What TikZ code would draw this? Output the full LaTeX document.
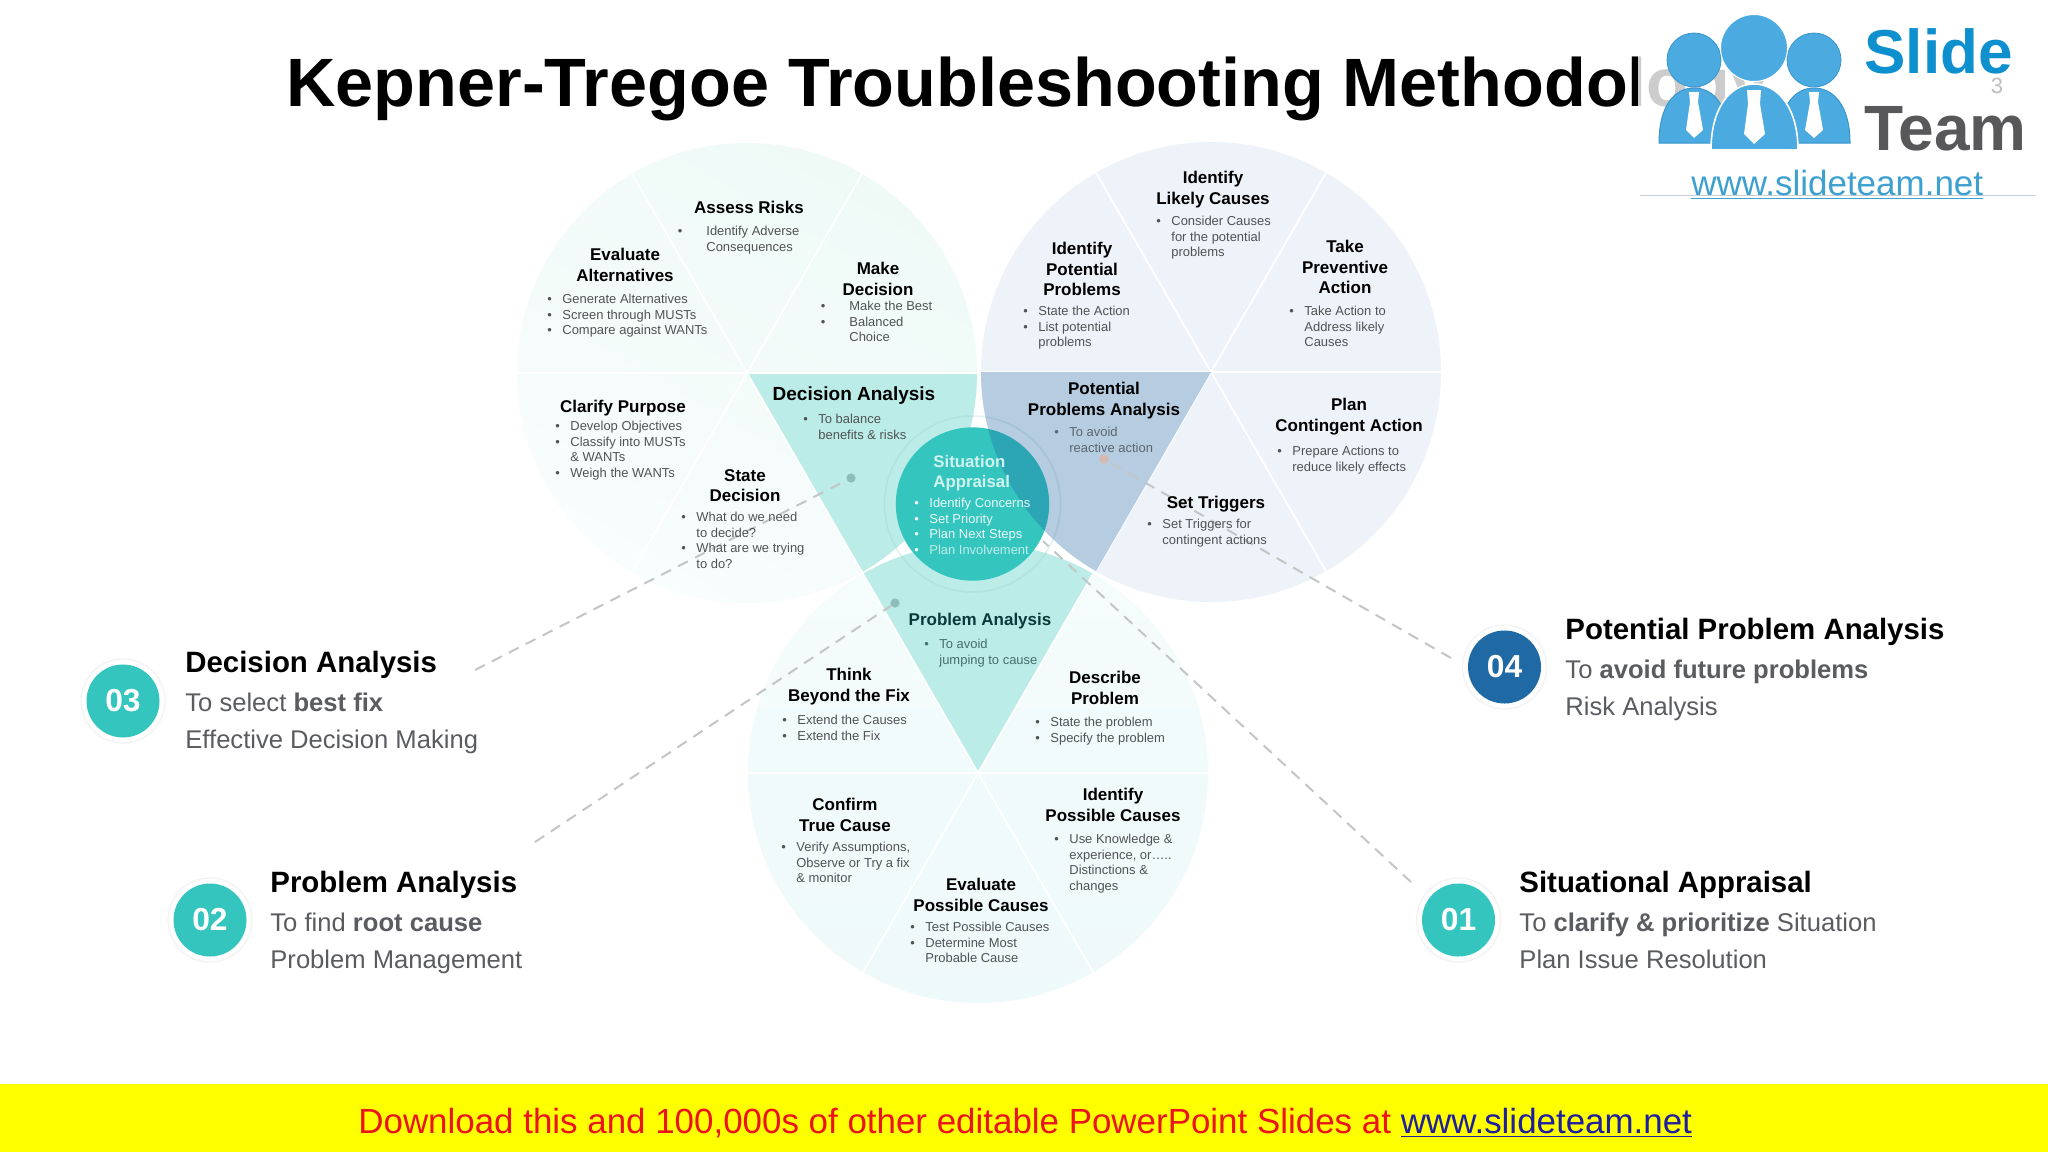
\documentclass[tikz,border=0pt]{standalone}
\usepackage{fontspec}
\setmainfont{Liberation Sans}
\definecolor{tealmain}{HTML}{33C5BE}
\definecolor{bluemain}{HTML}{1F6AA5}
\definecolor{wedgeteal}{HTML}{BBECE7}
\definecolor{bodygray}{HTML}{4F5354}
\definecolor{subgray}{HTML}{5A5C60}
\definecolor{dashgray}{HTML}{C2C6C6}
\definecolor{logoblue}{HTML}{4BAAE0}
\definecolor{logoedge}{HTML}{3A95CC}
\definecolor{bandyellow}{RGB}{255,255,0}
\newcommand{\bul}{\leavevmode\llap{•\hspace{5.2pt}}}
\newcommand{\bulw}{\leavevmode\llap{•\hspace{12pt}}}
\tikzset{
  headtext/.style={anchor=north,align=center,inner sep=0pt,text=black,font=\fontsize{8.5}{10.2}\selectfont\bfseries},
  bodytext/.style={anchor=north west,align=left,inner sep=0pt,text=bodygray,font=\fontsize{6.48}{7.7}\selectfont},
  sidehead/.style={anchor=base west,inner sep=0pt,text=black,font=\fontsize{14.7}{16}\selectfont\bfseries},
  sidesub/.style={anchor=base west,inner sep=0pt,text=subgray,font=\fontsize{12.8}{14}\selectfont},
  badgecore/.style={circle,minimum size=36.5pt,inner sep=0pt,text=white,font=\fontsize{15.9}{17}\selectfont\bfseries},
  badgering/.style={circle,minimum size=42pt,inner sep=0pt,fill=white,draw=black!5,line width=0.6pt},
  spoke/.style={white,line width=0.9pt},
  leader/.style={dashgray,line width=1pt,dash pattern=on 5.5pt off 4pt},
  leaddot/.style={circle,minimum size=4.6pt,inner sep=0pt},
  torso/.style={fill=logoblue,draw=logoedge,line width=0.5pt},
  tie/.style={fill=white}
}
\begin{document}
\begin{tikzpicture}[x=0.5pt,y=-0.5pt]
\useasboundingbox (0,0) rectangle (2048,1152);
\fill[white] (0,0) rectangle (2048,1152);

% title
\node[anchor=base west,inner sep=0pt,text=black,font=\fontsize{34.2}{38}\selectfont\bfseries] (maintitle) at (286,106) {Kepner-Tregoe Troubleshooting Methodology};

% circle A
\shade[top color={rgb,255:red,239;green,250;blue,247},bottom color={rgb,255:red,248;green,253;blue,253},shading angle=-30] (747,373) circle[radius=230];
% circle B
\fill[color={rgb,255:red,238;green,243;blue,249}] (1211,372) circle[radius=230];
% circle C
\shade[top color={rgb,255:red,245;green,252;blue,252},bottom color={rgb,255:red,238;green,249;blue,249}] (978,773) circle[radius=230];

% teal wedges
\fill[wedgeteal] (747,373) -- ++(0:230) arc[start angle=0,end angle=60,radius=230] -- cycle;
\fill[wedgeteal] (978,773) -- ++(240:230) arc[start angle=240,end angle=300,radius=230] -- cycle;
\fill[white] (1211,372) -- ++(120:230) arc[start angle=120,end angle=180,radius=230] -- cycle;

\foreach \a in {0,60,...,300} {
  \draw[spoke] (747,373) -- ++(\a:230);
  \draw[spoke] (1211,372) -- ++(\a:230);
  \draw[spoke] (978,773) -- ++(\a:230);
}

% centre
\draw[color={rgb,255:red,150;green,205;blue,200},opacity=0.25,line width=0.8pt] (972.5,504) circle[radius=88];
\node[circle,minimum size=76.7pt,inner sep=0pt,fill=tealmain] (centre) at (972.5,504) {};
\fill[color={rgb,255:red,31;green,98;blue,160},opacity=0.32] (1211,372) -- ++(120:230) arc[start angle=120,end angle=180,radius=230] -- cycle;

% leaders
\node[leaddot,fill={rgb,255:red,140;green,190;blue,186}] (dot3) at (851,478) {};
\node[leaddot,fill={rgb,255:red,140;green,190;blue,186}] (dot2) at (895,603) {};
\node[leaddot,fill={rgb,255:red,215;green,185;blue,175}] (dot4) at (1104,459) {};
\coordinate (dot1) at (1043,541);
\coordinate (end3) at (475,670);
\coordinate (end2) at (535,842);
\coordinate (end1) at (1411,882);
\coordinate (end4) at (1451,658);
\draw[leader] (end3) -- (dot3);
\draw[leader] (end2) -- (dot2);
\draw[leader] (end4) -- (dot4);
\draw[leader] (end1) -- (dot1);

% circle A texts
\node[headtext] (assess) at (749,201) {Assess Risks};
\node[bodytext] (assessb) at (706,226) {\bulw Identify Adverse\\Consequences};
\node[headtext] (evaluate) at (625,248) {Evaluate\\Alternatives};
\node[bodytext] (evaluateb) at (562,294) {\bul Generate Alternatives\\\bul Screen through MUSTs\\\bul Compare against WANTs};
\node[headtext] (make) at (878,262) {Make\\Decision};
\node[bodytext] (makeb) at (849,301) {\bulw Make the Best\\\bulw Balanced\\Choice};
\node[headtext,font=\fontsize{9.5}{11}\selectfont\bfseries] (da) at (854,386) {Decision Analysis};
\node[bodytext] (dab) at (818,414) {\bul To balance\\benefits \& risks};
\node[headtext] (clarify) at (623,400) {Clarify Purpose};
\node[bodytext] (clarifyb) at (570,421) {\bul Develop Objectives\\\bul Classify into MUSTs\\\& WANTs\\\bul Weigh the WANTs};
\node[headtext] (state) at (745,469) {State\\Decision};
\node[bodytext] (stateb) at (696,512) {\bul What do we need\\to decide?\\\bul What are we trying\\to do?};

% circle B texts
\node[headtext] (likely) at (1213,171) {Identify\\Likely Causes};
\node[bodytext] (likelyb) at (1171,216) {\bul Consider Causes\\for the potential\\problems};
\node[headtext] (potential) at (1082,242) {Identify\\Potential\\Problems};
\node[bodytext] (potentialb) at (1038,306) {\bul State the Action\\\bul List potential\\problems};
\node[headtext] (take) at (1345,240) {Take\\Preventive\\Action};
\node[bodytext] (takeb) at (1304,306) {\bul Take Action to\\Address likely\\Causes};
\node[headtext] (ppa) at (1104,382) {Potential\\Problems Analysis};
\node[bodytext,text={rgb,255:red,90;green,102;blue,112}] (ppab) at (1069,427) {\bul To avoid\\reactive action};
\node[headtext] (plan) at (1349,398) {Plan\\Contingent Action};
\node[bodytext] (planb) at (1292,446) {\bul Prepare Actions to\\reduce likely effects};
\node[headtext] (triggers) at (1216,496) {Set Triggers};
\node[bodytext] (triggersb) at (1162,519) {\bul Set Triggers for\\contingent actions};

% circle C texts
\node[headtext,text={rgb,255:red,12;green,58;blue,58}] (pa) at (980,613) {Problem Analysis};
\node[bodytext,text={rgb,255:red,70;green,110;blue,108}] (pab) at (939,639) {\bul To avoid\\jumping to cause};
\node[headtext] (think) at (849,668) {Think\\Beyond the Fix};
\node[bodytext] (thinkb) at (797,715) {\bul Extend the Causes\\\bul Extend the Fix};
\node[headtext] (describe) at (1105,671) {Describe\\Problem};
\node[bodytext] (describeb) at (1050,717) {\bul State the problem\\\bul Specify the problem};
\node[headtext] (confirm) at (845,798) {Confirm\\True Cause};
\node[bodytext] (confirmb) at (796,842) {\bul Verify Assumptions,\\Observe or Try a fix\\\& monitor};
\node[headtext] (possible) at (1113,788) {Identify\\Possible Causes};
\node[bodytext] (possibleb) at (1069,834) {\bul Use Knowledge \&\\experience, or…..\\Distinctions \&\\changes};
\node[headtext] (evalp) at (981,878) {Evaluate\\Possible Causes};
\node[bodytext] (evalpb) at (925,922) {\bul Test Possible Causes\\\bul Determine Most\\Probable Cause};

% centre text
\node[headtext,anchor=north west,align=left,text={rgb,255:red,208;green,243;blue,240},font=\fontsize{8.4}{10.2}\selectfont\bfseries] (sa) at (933,455) {Situation\\Appraisal};
\node[bodytext,text={rgb,255:red,235;green,250;blue,249}] (sab) at (929,498) {\bul Identify Concerns\\\bul Set Priority\\\bul Plan Next Steps\\\bul {\color[RGB]{190,237,234}Plan Involvement}};

% badges
\node[badgering] (ring3) at (123,701) {};
\node[badgecore,fill=tealmain] (b3) at (123,701) {03};
\node[badgering] (ring2) at (210,920) {};
\node[badgecore,fill=tealmain] (b2) at (210,920) {02};
\node[badgering] (ring1) at (1458.5,920) {};
\node[badgecore,fill=tealmain] (b1) at (1458.5,920) {01};
\node[badgering] (ring4) at (1504.5,667) {};
\node[badgecore,fill=bluemain] (b4) at (1504.5,667) {04};

% side texts
\node[sidehead] (t3) at (185,672) {Decision Analysis};
\node[sidesub] (s3) at (185,711) {To select {\bfseries best fix}};
\node[sidesub] (u3) at (185,748) {Effective Decision Making};
\node[sidehead] (t2) at (270,892) {Problem Analysis};
\node[sidesub] (s2) at (270,931) {To find {\bfseries root cause}};
\node[sidesub] (u2) at (270,968) {Problem Management};
\node[sidehead] (t4) at (1565,639) {Potential Problem Analysis};
\node[sidesub] (s4) at (1565,678) {To {\bfseries avoid future problems}};
\node[sidesub] (u4) at (1565,715) {Risk Analysis};
\node[sidehead] (t1) at (1519,892) {Situational Appraisal};
\node[sidesub] (s1) at (1519,931) {To {\bfseries clarify \& prioritize} Situation};
\node[sidesub] (u1) at (1519,968) {Plan Issue Resolution};

% logo
\fill[white,opacity=0.8] (1638,0) rectangle (2048,195);
\node[anchor=base,inner sep=0pt,text={rgb,255:red,190;green,190;blue,190},font=\fontsize{11}{12}\selectfont] (pageno) at (1997,93) {3};
\draw[color={rgb,255:red,200;green,208;blue,214},line width=0.5pt] (1640,195) -- (2036,195);
\draw[torso] (1659,143) .. controls (1659,105) and (1675,88) .. (1694,88) .. controls (1713,88) and (1729,105) .. (1729,143) -- cycle;
\draw[torso] (1779,143) .. controls (1779,105) and (1795,88) .. (1814,88) .. controls (1833,88) and (1850,105) .. (1850,143) -- cycle;
\fill[tie] (1689,92) -- (1699,92) -- (1698,102) -- (1703,130) -- (1694,138) -- (1686,130) -- (1690,102) -- cycle;
\fill[tie] (1809,92) -- (1819,92) -- (1818,102) -- (1823,130) -- (1814,138) -- (1805,130) -- (1810,102) -- cycle;
\draw[torso,draw=white,line width=0.8pt] (1711,150) .. controls (1711,108) and (1730,84) .. (1754,84) .. controls (1778,84) and (1798,108) .. (1798,150) -- cycle;
\fill[tie] (1747,90) -- (1761,90) -- (1760,104) -- (1765,134) -- (1754,144) -- (1744,134) -- (1748,104) -- cycle;
\fill[logoblue,draw=logoedge,line width=0.4pt] (1694,60) circle[radius=27];
\fill[logoblue,draw=logoedge,line width=0.4pt] (1814,60) circle[radius=27];
\fill[logoblue,draw=white,line width=0.5pt] (1754,48) circle[radius=33.5];
\node[anchor=base west,inner sep=0pt,text={rgb,255:red,14;green,143;blue,206},font=\fontsize{31}{33}\selectfont\bfseries] (slide) at (1864,73) {Slide};
\node[anchor=base west,inner sep=0pt,text={rgb,255:red,88;green,88;blue,90},font=\fontsize{32}{33}\selectfont\bfseries] (team) at (1864,150) {Team};
\node[anchor=base west,inner sep=0pt,text={rgb,255:red,62;green,160;blue,208},font=\fontsize{17.5}{20}\selectfont] (url) at (1691,195) {\underline{www.slideteam.net}};

% footer band
\fill[bandyellow] (0,1084) rectangle (2048,1152);
\node[anchor=base west,inner sep=0pt,text={rgb,255:red,235;green,20;blue,30},font=\fontsize{17.46}{19}\selectfont] (band) at (358,1133) {Download this and 100,000s of other editable PowerPoint Slides at {\color[RGB]{30,30,160}\underline{www.slideteam.net}}};
\end{tikzpicture}
\end{document}
